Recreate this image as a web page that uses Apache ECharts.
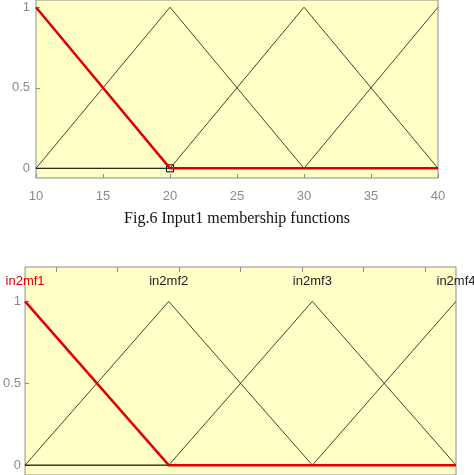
<!DOCTYPE html>
<html><head><meta charset="utf-8">
<script src="https://cdn.jsdelivr.net/npm/echarts@6/dist/echarts.min.js"></script>
<style>html,body{margin:0;padding:0;background:#fff}#chart{width:474px;height:475px}</style>
</head><body><div id="chart"></div>
<script>
// Input1 membership functions (vertices)
const in1Ticks = [10, 15, 20, 25, 30, 35, 40];
const in1mf1 = [[10, 1], [20, 0], [40, 0]];
const in1mf2 = [[10, 0], [20, 1], [30, 0], [40, 0]];
const in1mf3 = [[10, 0], [20, 0], [30, 1], [40, 0]];
const in1mf4 = [[10, 0], [30, 0], [40, 1]];
// Input2 membership functions (vertices)
const in2Names = ['in2mf1', 'in2mf2', 'in2mf3', 'in2mf4'];
const in2Peaks = [0, 7, 14, 21];
const in2mf1 = [[0, 1], [7, 0], [21, 0]];
const in2mf2 = [[0, 0], [7, 1], [14, 0], [21, 0]];
const in2mf3 = [[0, 0], [7, 0], [14, 1], [21, 0]];
const in2mf4 = [[0, 0], [14, 0], [21, 1]];
const in2TopTicks = [1.5, 4.5, 7.5, 10.5, 13.5, 16.5, 19.5];
const yTicks = [0, 0.5, 1];

const chart = echarts.init(document.getElementById('chart'));
const frame = '#8c8c8c', lab = '#8a8a8a';
function mf(data, gi, red) {
  return {
    type: 'line', xAxisIndex: gi, yAxisIndex: gi, data: data, silent: true,
    symbol: 'none', z: red ? 5 : 3,
    lineStyle: { color: red ? '#e00000' : '#111', width: red ? 2.5 : 0.8 }
  };
}
function nameMark(i) {
  return { symbol: 'circle', symbolSize: 0, silent: true,
    data: [{ coord: [in2Peaks[i], 1.12],
      label: { show: true, formatter: in2Names[i], position: 'inside',
        color: i === 0 ? '#e00000' : '#222', fontFamily: 'Arial', fontSize: 13 } }] };
}
const s1 = mf(in1mf1, 0, true);
s1.markPoint = { symbol: 'rect', symbolSize: 7, silent: true, label: { show: false },
  itemStyle: { color: 'transparent', borderColor: '#000', borderWidth: 1 },
  data: [{ coord: [20, 0] }] };
const b = [mf(in2mf2, 1), mf(in2mf3, 1), mf(in2mf4, 1), mf(in2mf1, 1, true)];
b[0].markPoint = nameMark(1); b[1].markPoint = nameMark(2);
b[2].markPoint = nameMark(3); b[3].markPoint = nameMark(0);

chart.setOption({
  animation: false,
  grid: [
    { left: 36, right: 36, top: -7, height: 185, backgroundColor: '#ffffc6', show: true, borderColor: frame, borderWidth: 1 },
    { left: 22, right: 18, top: 267, bottom: -8, backgroundColor: '#ffffc6', show: true, borderColor: frame, borderWidth: 1 }
  ],
  xAxis: [
    { gridIndex: 0, type: 'value', min: 10, max: 40, interval: 5,
      axisLine: { show: false, onZero: false }, splitLine: { show: false },
      axisTick: { inside: true, length: 4, lineStyle: { color: frame } },
      axisLabel: { color: lab, fontFamily: 'Arial', fontSize: 13, margin: 12,
        customValues: in1Ticks } },
    { gridIndex: 1, type: 'value', min: 0, max: 21, position: 'top',
      axisLine: { show: false, onZero: false }, splitLine: { show: false },
      axisTick: { inside: true, length: 5, lineStyle: { color: frame }, customValues: in2TopTicks },
      axisLabel: { show: false } }
  ],
  yAxis: [
    { gridIndex: 0, type: 'value', min: -0.06, max: 1.045,
      axisLine: { show: false }, splitLine: { show: false },
      axisTick: { inside: true, length: 4, lineStyle: { color: frame }, customValues: yTicks },
      axisLabel: { color: lab, fontFamily: 'Arial', fontSize: 13, margin: 6, customValues: yTicks } },
    { gridIndex: 1, type: 'value', min: -0.06, max: 1.21,
      axisLine: { show: false }, splitLine: { show: false },
      axisTick: { inside: true, length: 4, lineStyle: { color: frame }, customValues: yTicks },
      axisLabel: { color: lab, fontFamily: 'Arial', fontSize: 13, margin: 4, customValues: yTicks } }
  ],
  series: [mf(in1mf2, 0), mf(in1mf3, 0), mf(in1mf4, 0), s1].concat(b),
  graphic: [{
    type: 'text', left: 'center', top: 211,
    style: { text: 'Fig.6 Input1 membership functions', fontFamily: 'Liberation Serif',
      fontSize: 16, fill: '#111' }
  }]
});
</script></body></html>
